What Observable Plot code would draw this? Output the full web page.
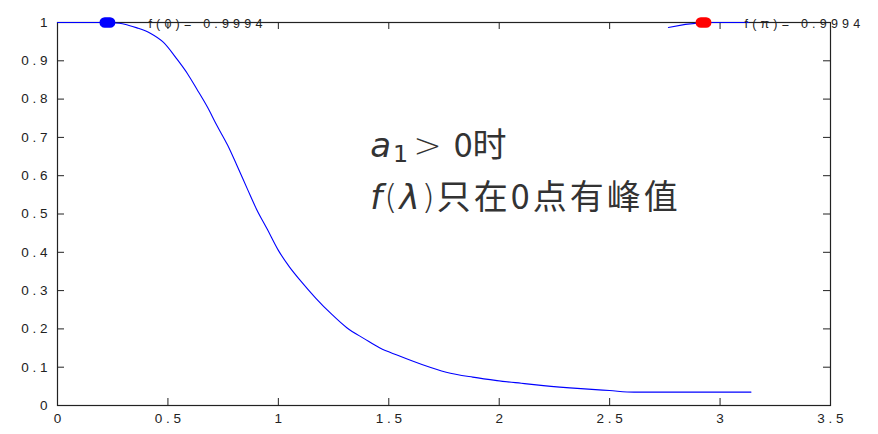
<!DOCTYPE html>
<html><head><meta charset="utf-8">
<script src="https://cdn.jsdelivr.net/npm/d3@7"></script>
<script src="https://cdn.jsdelivr.net/npm/@observablehq/plot@0.6"></script>
<style>
body{margin:0;background:#fff}
</style>
</head><body><div id="chart"></div>
<script>
// main curve f(λ)
const lambda = [0, 0.1, 0.2, 0.28, 0.32, 0.36, 0.42, 0.48, 0.54, 0.59, 0.63, 0.68, 0.72, 0.77, 0.81, 0.86, 0.9, 0.95, 1.0, 1.05, 1.1, 1.17, 1.24, 1.31, 1.39, 1.46, 1.54, 1.65, 1.76, 1.88, 1.99, 2.1, 2.2, 2.37, 2.5, 2.61, 2.8, 3.0, 3.14];
const fvals  = [1, 1, 1, 0.998, 0.993, 0.986, 0.972, 0.948, 0.905, 0.865, 0.827, 0.778, 0.733, 0.68, 0.63, 0.565, 0.514, 0.46, 0.405, 0.362, 0.326, 0.28, 0.239, 0.203, 0.174, 0.15, 0.131, 0.107, 0.087, 0.074, 0.065, 0.058, 0.052, 0.044, 0.039, 0.035, 0.035, 0.035, 0.035];
// small segment near the top right
const edgeLambda = [2.766, 2.843, 2.93, 3.015, 3.128];
const edgeF = [0.987, 0.995, 1, 1, 1];
// peak markers
const markerLambda = [0.226, 2.925];
const markerF = [1, 1];
const markerColor = ["#0000ff", "#ff0000"];
const markerLabel = ["f(0)= 0.9994", "f(π)= 0.9994"];
// ticks
const xTicks = [0, 0.5, 1, 1.5, 2, 2.5, 3, 3.5];
const yTicks = [0, 0.1, 0.2, 0.3, 0.4, 0.5, 0.6, 0.7, 0.8, 0.9, 1];
// annotation
const noteLambda = [1.416, 1.416];
const noteF = [0.648, 0.514];
const notePlain = ["a1 > 0时", "f(λ)只在0点有峰值"];
const noteParts = [
  [["a", "i"], ["1", "sub"], [">", "op"], ["0时", "c0"]],
  [["f", "i"], ["(", "l"], ["λ", "i"], [")", "l"], ["只在0点有峰值", "c"]]
];

const curve = lambda.map((x, i) => ({x, y: fvals[i]}));
const edge = edgeLambda.map((x, i) => ({x, y: edgeF[i]}));
const markers = markerLambda.map((x, i) => ({x, y: markerF[i], c: markerColor[i], t: markerLabel[i]}));
const notes = noteLambda.map((x, i) => ({x, y: noteF[i], t: notePlain[i], i}));

const fmt = d => String(d).split("").join(" ");
const pill = {draw(ctx, size) {
  const r = Math.sqrt(size / Math.PI), w = r * 0.6;
  ctx.moveTo(-w, -r); ctx.lineTo(w, -r);
  ctx.arc(w, 0, r, -Math.PI / 2, Math.PI / 2);
  ctx.lineTo(-w, r);
  ctx.arc(-w, 0, r, Math.PI / 2, 3 * Math.PI / 2);
  ctx.closePath();
}};

const W = 878, H = 434, mL = 57, mR = 48, mT = 22, mB = 29;
const iw = W - mL - mR, ih = H - mT - mB, tk = 7;

const svg = Plot.plot({
  width: W, height: H,
  marginLeft: mL, marginRight: mR, marginTop: mT, marginBottom: mB,
  x: {domain: [0, 3.5], label: null},
  y: {domain: [0, 1], label: null},
  style: {fontFamily: "'Liberation Sans', Arial, sans-serif", fontSize: "13.5px", color: "#222", background: "#fff", overflow: "visible"},
  marks: [
    Plot.axisX({ticks: xTicks, tickSize: 0, tickPadding: 8, tickFormat: fmt, label: null}),
    Plot.axisY({ticks: yTicks, tickSize: 0, tickPadding: 10, tickFormat: fmt, label: null}),
    Plot.ruleX(xTicks, {x: d => d, insetTop: ih - tk, stroke: "#222"}),
    Plot.ruleX(xTicks, {x: d => d, insetBottom: ih - tk, stroke: "#222"}),
    Plot.ruleY(yTicks, {y: d => d, insetRight: iw - tk, stroke: "#222"}),
    Plot.ruleY(yTicks, {y: d => d, insetLeft: iw - tk, stroke: "#222"}),
    Plot.frame({stroke: "#222", strokeWidth: 1.2}),
    Plot.line(curve, {x: "x", y: "y", stroke: "#0000ff", strokeWidth: 1.1, curve: "monotone-x"}),
    Plot.line(edge, {x: "x", y: "y", stroke: "#0000ff", strokeWidth: 1.1}),
    Plot.dot(markers, {x: "x", y: "y", fill: "c", stroke: "c", r: 4.5, symbol: pill}),
    Plot.text(markers, {x: "x", y: "y", text: "t", dx: 41, dy: 1, textAnchor: "start", fontSize: 12.5, fill: "#222"}),
    Plot.text(notes, {x: "x", y: "y", text: "t", textAnchor: "start", lineAnchor: "bottom", fontSize: 34, fill: "#333", fontFamily: "'Noto Sans CJK SC', 'Noto Sans', sans-serif"})
  ]
});

d3.select(svg).selectAll("text").each(function() {
  const el = d3.select(this);
  const s = this.textContent;
  if (markerLabel.includes(s)) el.style("letter-spacing", "4.2px");
  const idx = notePlain.indexOf(s);
  if (idx < 0) return;
  el.text(null);
  for (const [t, k] of noteParts[idx]) {
    const ts = el.append("tspan").text(t);
    if (k === "i") ts.attr("font-style", "italic").attr("font-family", "'DejaVu Sans', sans-serif").style("letter-spacing", "2px");
    if (k === "l") ts.attr("font-family", "'DejaVu Sans', sans-serif").attr("font-weight", 300).style("letter-spacing", "2px");
    if (k === "op") ts.attr("font-family", "'DejaVu Sans', sans-serif").attr("font-weight", 300).attr("dx", 5);
    if (k === "sub") ts.attr("font-size", "0.7em").attr("baseline-shift", "-0.2em").attr("font-family", "'DejaVu Sans', sans-serif");
    if (k === "c") ts.style("letter-spacing", "3px");
    if (k === "c0") ts.attr("dx", 12);
  }
});

document.getElementById("chart").appendChild(svg);
</script>
</body></html>
